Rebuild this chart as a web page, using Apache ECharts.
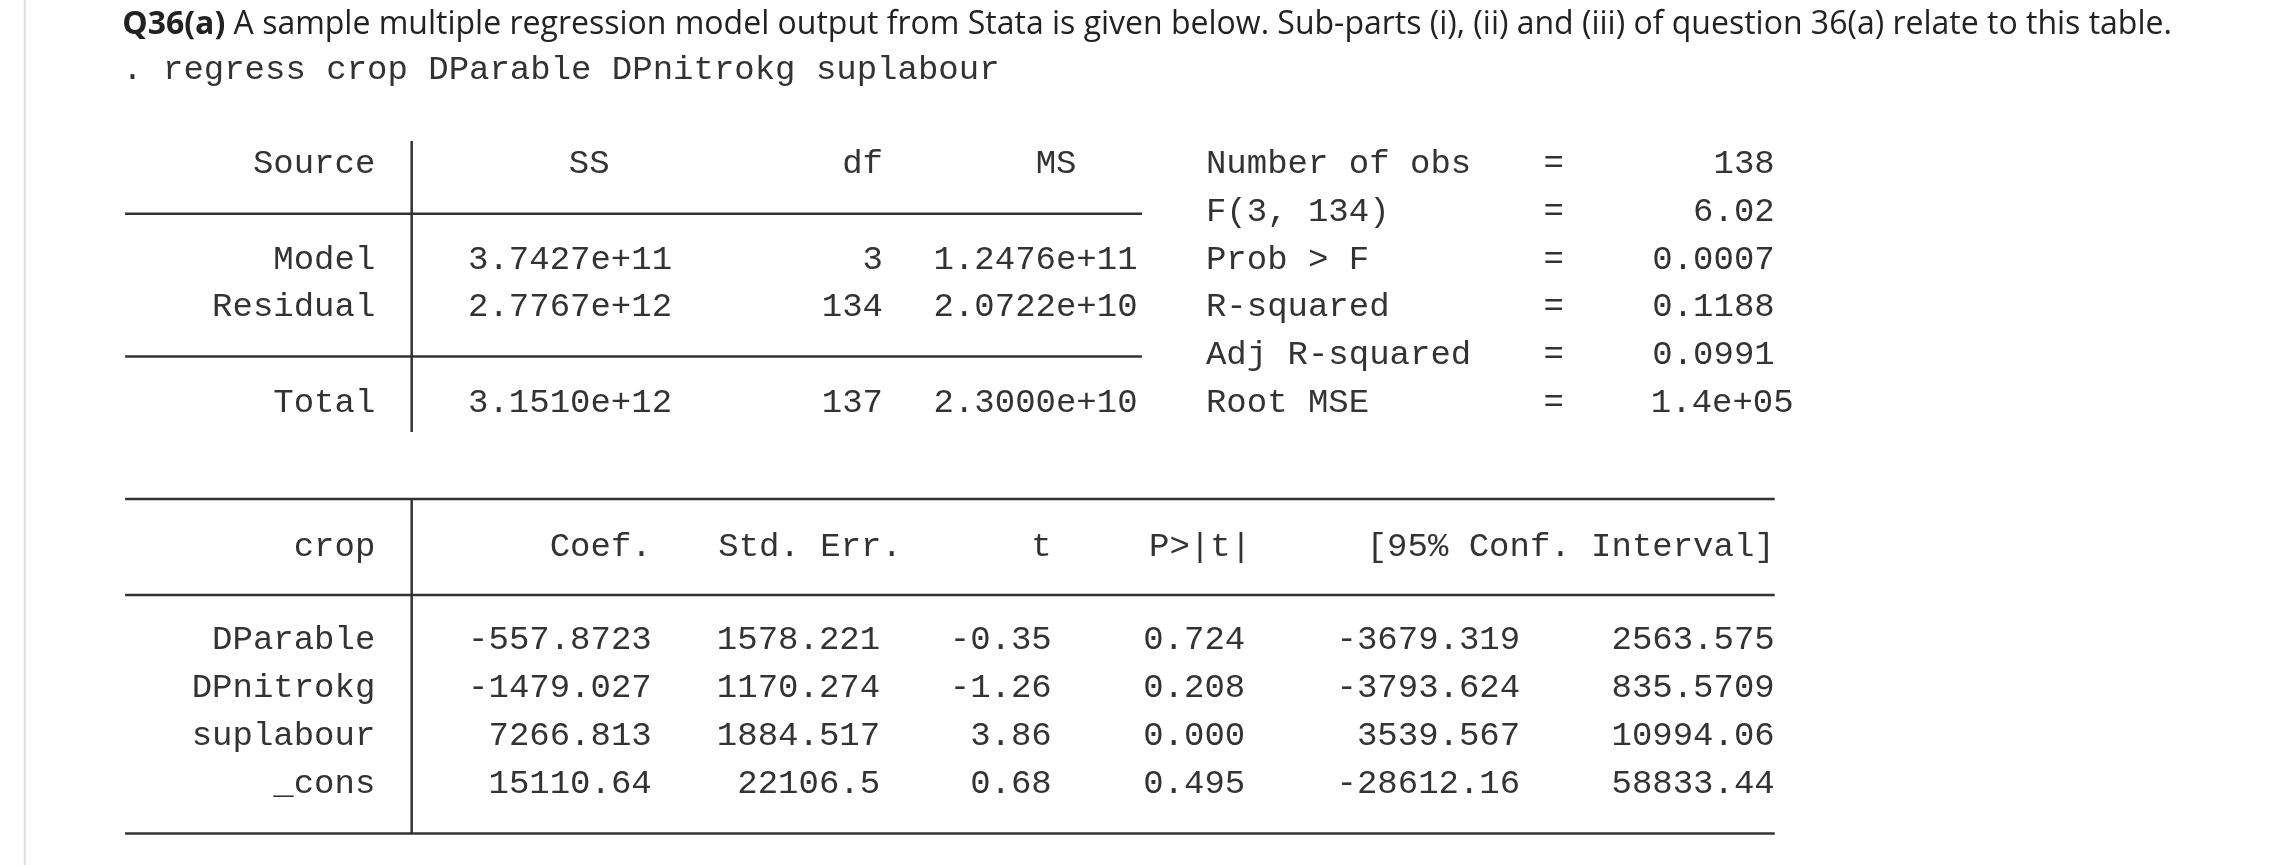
<!DOCTYPE html>
<html>
<head>
<meta charset="utf-8">
<script src="https://cdn.jsdelivr.net/npm/echarts@6/dist/echarts.min.js"></script>
<style>html,body{margin:0;padding:0;background:#fff}#main{width:2281px;height:865px}</style>
</head>
<body>
<div id="main"></div>
<script>
// anova part
const anovaSources = ['Model', 'Residual', 'Total']
const anovaSS = ['3.7427e+11', '2.7767e+12', '3.1510e+12']
const anovaDf = ['3', '134', '137']
const anovaMS = ['1.2476e+11', '2.0722e+10', '2.3000e+10']
const statLabels = ['Number of obs', 'F(3, 134)', 'Prob > F', 'R-squared', 'Adj R-squared', 'Root MSE']
const statValues = ['138', '6.02', '0.0007', '0.1188', '0.0991', '1.4e+05']
// coefficient part
const coefHeaders = ['crop', 'Coef.', 'Std. Err.', 't', 'P>|t|', '[95% Conf. Interval]']
const varNames = ['DParable', 'DPnitrokg', 'suplabour', '_cons']
const coefs = ['-557.8723', '-1479.027', '7266.813', '15110.64']
const stdErrs = ['1578.221', '1170.274', '1884.517', '22106.5']
const tVals = ['-0.35', '-1.26', '3.86', '0.68']
const pVals = ['0.724', '0.208', '0.000', '0.495']
const ciLow = ['-3679.319', '-3793.624', '3539.567', '-28612.16']
const ciHigh = ['2563.575', '835.5709', '10994.06', '58833.44']

const s = 1.4547
const mono = 'Liberation Mono'
const fs = 34
const txtColor = '#333'
const els = []

function txt(x, y, str, align) {
  els.push({
    type: 'text', x: x * s, y: y * s,
    style: { text: str, font: fs + 'px "' + mono + '"', fill: txtColor, align: align || 'right', verticalAlign: 'middle' }
  })
}
function line(x1, y1, x2, y2, w) {
  els.push({ type: 'line', shape: { x1: x1 * s, y1: y1 * s, x2: x2 * s, y2: y2 * s }, style: { stroke: '#333', lineWidth: w || 2.5 } })
}

// page frame line on left
els.push({ type: 'line', shape: { x1: 17 * s, y1: 0, x2: 17 * s, y2: 865 }, style: { stroke: '#ddd', lineWidth: 2 } })

// title
els.push({
  type: 'text', x: 84 * s, y: 17 * s,
  style: {
    text: '{b|Q36(a)} A sample multiple regression model output from Stata is given below. Sub-parts (i), (ii) and (iii) of question 36(a) relate to this table.',
    font: '32px "Open Sans"', fill: '#222', verticalAlign: 'middle',
    rich: { b: { font: 'bold 32px "Open Sans"', fill: '#222' } }
  }
})
txt(84, 48, '. regress crop DParable DPnitrokg suplabour', 'left')

// anova table
txt(258, 113, 'Source')
txt(405, 113, 'SS', 'center')
txt(607, 113, 'df')
txt(740, 113, 'MS', 'right')
const anovaY = [179, 211, 277]
anovaSources.forEach((src, i) => {
  const y = anovaY[i]
  txt(258, y, src)
  txt(462, y, anovaSS[i])
  txt(607, y, anovaDf[i])
  txt(782, y, anovaMS[i])
})
line(283, 97, 283, 297)
line(86, 147, 785, 147)
line(86, 245, 785, 245)

const statY = [113, 146, 179, 211, 244, 277]
statLabels.forEach((lab, i) => {
  txt(829, statY[i], lab, 'left')
  txt(1068, statY[i], '=', 'center')
  txt(statValues[i] === '1.4e+05' ? 1233 : 1220, statY[i], statValues[i])
})

// coefficient table
const hdrX = [258, 448, 620, 723, 860, 1220]
coefHeaders.forEach((h, i) => txt(hdrX[i], 376, h))
const colX = [258, 448, 605, 723, 856, 1045, 1220]
const rowY = [440, 473, 506, 539]
varNames.forEach((v, i) => {
  const y = rowY[i]
  const vals = [v, coefs[i], stdErrs[i], tVals[i], pVals[i], ciLow[i], ciHigh[i]]
  vals.forEach((val, j) => txt(colX[j], y, val))
})
line(86, 343, 1220, 343)
line(86, 409, 1220, 409)
line(86, 573, 1220, 573)
line(283, 343, 283, 573)

const chart = echarts.init(document.getElementById('main'))
chart.setOption({ backgroundColor: '#fff', graphic: { elements: els } })
</script>
</body>
</html>
